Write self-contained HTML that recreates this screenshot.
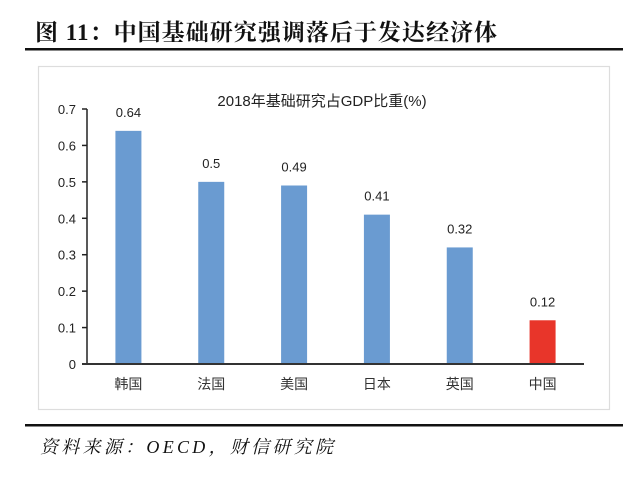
<!DOCTYPE html>
<html><head><meta charset="utf-8"><style>
body{margin:0;background:#fff;width:640px;height:478px;overflow:hidden;font-family:"Liberation Sans","Noto Sans CJK SC",sans-serif}
</style></head><body>
<svg width="640" height="478" xmlns="http://www.w3.org/2000/svg">
<text x="35" y="40" font-family="'Liberation Serif','Noto Serif CJK SC',serif" font-weight="bold" font-size="23" fill="#111" textLength="462" lengthAdjust="spacing">图 11：中国基础研究强调落后于发达经济体</text>
<rect x="25" y="48" width="598" height="2.5" fill="#111"/>
<rect x="38.5" y="66.5" width="571" height="343" fill="#fff" stroke="#ddd" stroke-width="1.2"/>
<text x="322" y="106" text-anchor="middle" font-size="15" fill="#222" font-family="'Liberation Sans','Noto Sans CJK SC',sans-serif">2018年基础研究占GDP比重(%)</text>
<g id="chart"></g>
<rect x="25" y="424" width="598" height="2.5" fill="#111"/>
<text x="40" y="453" font-style="italic" font-size="18" fill="#111" textLength="293" lengthAdjust="spacing" font-family="'Liberation Serif','Noto Serif CJK SC',serif">资料来源：OECD，财信研究院</text>
</svg>
<script>
const categories=["韩国","法国","美国","日本","英国","中国"];
const values=[0.64,0.5,0.49,0.41,0.32,0.12];
const valueLabels=["0.64","0.5","0.49","0.41","0.32","0.12"];
const yTicks=[0,0.1,0.2,0.3,0.4,0.5,0.6,0.7];
const yTickLabels=["0","0.1","0.2","0.3","0.4","0.5","0.6","0.7"];
const NS="http://www.w3.org/2000/svg";
const g=document.getElementById('chart');
const x0=87,x1=584,yBase=364,yTop=109,yMax=0.7;
const y=v=>yBase-(v/yMax)*(yBase-yTop);
const band=(x1-x0)/categories.length;
const xc=i=>x0+band*(i+0.5);
function mk(tag,attrs){const e=document.createElementNS(NS,tag);for(const k in attrs)e.setAttribute(k,attrs[k]);g.appendChild(e);return e;}
yTicks.forEach((t,i)=>{
  const tx=mk('text',{x:76,y:y(t)+5,'text-anchor':'end','font-size':13,fill:'#222'});
  tx.textContent=yTickLabels[i];
  
  
  const tk=mk('line',{x1:x0-5,x2:x0,y1:y(t),y2:y(t),stroke:'#222','stroke-width':1.5});
  
  
});
values.forEach((v,i)=>{
  const r=mk('rect',{x:xc(i)-13,y:y(v),width:26,height:yBase-y(v),fill:categories[i]==="中国"?'#e8352a':'#6a9bd1'});
  
  
  const lb=mk('text',{x:xc(i),y:y(v)-14,'text-anchor':'middle','font-size':13,fill:'#222'});
  lb.textContent=valueLabels[i];
  
  
  const c=mk('text',{x:xc(i),y:389,'text-anchor':'middle','font-size':14,fill:'#333'});
  c.textContent=categories[i];
  
  
});
const ya=mk('line',{x1:x0,x2:x0,y1:yTop,y2:yBase,stroke:'#222','stroke-width':1.5});


const xa=mk('line',{x1:x0-5,x2:x1,y1:yBase,y2:yBase,stroke:'#333','stroke-width':2});


</script>
</body></html>
